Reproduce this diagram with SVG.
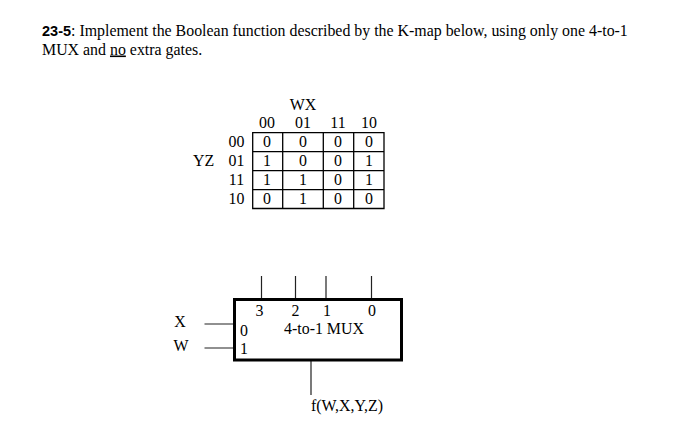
<svg xmlns="http://www.w3.org/2000/svg" width="685" height="438" viewBox="0 0 685 438">
<style>
text{font-family:"Liberation Serif","Times New Roman",serif;font-size:15.9px;fill:#000}
.c{text-anchor:middle}
.b{font-family:"Liberation Sans",Arial,sans-serif;font-weight:bold;font-size:14.5px}
.g{stroke:#000;stroke-width:1.3;fill:none}
.w{stroke:#222;stroke-width:1.2;fill:none}
</style>
<rect width="685" height="438" fill="#fff"/>
<g id="question">
<text x="42" y="35.500"><tspan class="b">23-5</tspan>: Implement the Boolean function described by the K-map below, using only one 4-to-1</text>
<text x="42" y="54.500">MUX and <tspan text-decoration="underline">no</tspan> extra gates.</text>
</g>
<g id="kmap">
<path class="g" d="M252.7 132.7H384V208.5H252.7ZM282.7 132.7V208.5M323.3 132.7V208.5M353.7 132.7V208.5M252.7 151.7H384M252.7 170.7H384M252.7 189.7H384"/>
<text class="c" x="303" y="110">WX</text>
<text class="c" x="267" y="127.500">00</text><text class="c" x="303" y="127.500">01</text><text class="c" x="338" y="127.500">11</text><text class="c" x="369" y="127.500">10</text>
<text x="193" y="165.500">YZ</text>
<text class="c" x="236.500" y="146.500">00</text><text class="c" x="236.500" y="165.500">01</text><text class="c" x="236.500" y="185">11</text><text class="c" x="236.500" y="204">10</text>
<text class="c" x="267" y="146.500">0</text><text class="c" x="303" y="146.500">0</text><text class="c" x="338" y="146.500">0</text><text class="c" x="369" y="146.500">0</text>
<text class="c" x="267" y="165.500">1</text><text class="c" x="303" y="165.500">0</text><text class="c" x="338" y="165.500">0</text><text class="c" x="369" y="165.500">1</text>
<text class="c" x="267" y="185">1</text><text class="c" x="303" y="185">1</text><text class="c" x="338" y="185">0</text><text class="c" x="369" y="185">1</text>
<text class="c" x="267" y="204">0</text><text class="c" x="303" y="204">1</text><text class="c" x="338" y="204">0</text><text class="c" x="369" y="204">0</text>
</g>
<g id="connectors">
<path class="w" d="M261.500 276V299M295.500 276V299M326 276V299M371.500 276V299M204.500 324H234M204.500 348H234M311 361V395"/>
</g>
<g id="mux">
<rect x="234.500" y="299.500" width="167" height="60.500" fill="none" stroke="#000" stroke-width="3"/>
<text class="c" x="259.500" y="316">3</text><text class="c" x="295.500" y="316">2</text><text class="c" x="327" y="316">1</text><text class="c" x="372" y="316">0</text>
<text class="c" x="324" y="333.500">4-to-1 MUX</text>
<text class="c" x="244" y="335.500">0</text><text class="c" x="244" y="353.500">1</text>
</g>
<g id="labels">
<text class="c" x="180" y="327">X</text>
<text class="c" x="181" y="351">W</text>
<text x="311" y="411">f(W,X,Y,Z)</text>
</g>
</svg>
